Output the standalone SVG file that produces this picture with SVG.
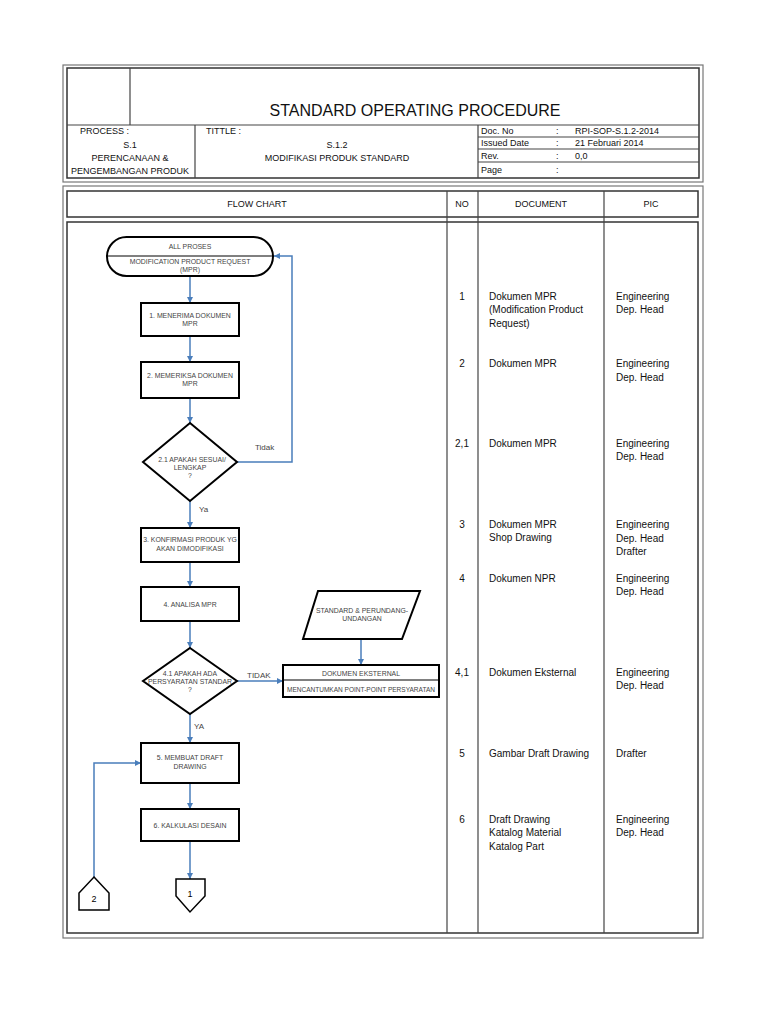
<svg xmlns="http://www.w3.org/2000/svg" width="768" height="1024" viewBox="0 0 768 1024">
<style>
.frameO{fill:none;stroke:#777;stroke-width:1.2}
.frameI{fill:none;stroke:#333;stroke-width:1.5}
.grid{fill:none;stroke:#444;stroke-width:1.2}
.hd{font-family:"Liberation Sans",Arial,sans-serif;font-size:9px;fill:#111}
.tb{font-family:"Liberation Sans",Arial,sans-serif;font-size:10px;fill:#111}
.title{font-family:"Liberation Sans",Arial,sans-serif;font-size:16px;fill:#111}
.sh{fill:#fff;stroke:#000;stroke-width:2}
.sh1{fill:none;stroke:#000;stroke-width:1}
.ft{font-family:"Liberation Sans",Arial,sans-serif;font-size:6.9px;fill:#444;text-anchor:middle}
.num{font-family:"Liberation Sans",Arial,sans-serif;font-size:9px;fill:#000;text-anchor:middle}
.lbl{font-family:"Liberation Sans",Arial,sans-serif;font-size:8px;fill:#444}
.cn{fill:none;stroke:#4a7ebb;stroke-width:1.5}
</style>
<defs>
<marker id="ah" viewBox="0 0 10 10" refX="10" refY="5" markerWidth="6" markerHeight="6" orient="auto" markerUnits="userSpaceOnUse">
<path d="M0,0 L10,5 L0,10 z" fill="#4a7ebb"/>
</marker>
</defs>
<rect width="768" height="1024" fill="#fff"/>

<g id="header">
<rect class="frameO" x="63" y="65" width="640" height="117"/>
<rect class="frameI" x="67" y="68" width="632" height="110"/>
<line class="grid" x1="130" y1="68" x2="130" y2="125"/>
<line class="grid" x1="67" y1="125" x2="699" y2="125"/>
<line class="grid" x1="195" y1="125" x2="195" y2="178"/>
<line class="grid" x1="478" y1="125" x2="478" y2="178"/>
<line class="grid" x1="478" y1="137" x2="699" y2="137"/>
<line class="grid" x1="478" y1="149" x2="699" y2="149"/>
<line class="grid" x1="478" y1="162" x2="699" y2="162"/>
<text class="title" x="415" y="116" text-anchor="middle">STANDARD OPERATING PROCEDURE</text>
<text class="hd" x="80" y="134">PROCESS :</text>
<text class="hd" x="130" y="148" text-anchor="middle">S.1</text>
<text class="hd" x="130" y="161" text-anchor="middle">PERENCANAAN &amp;</text>
<text class="hd" x="130" y="174" text-anchor="middle">PENGEMBANGAN PRODUK</text>
<text class="hd" x="206" y="134">TITTLE :</text>
<text class="hd" x="337" y="148" text-anchor="middle">S.1.2</text>
<text class="hd" x="337" y="161" text-anchor="middle">MODIFIKASI PRODUK STANDARD</text>
<text class="hd" x="481" y="134">Doc. No</text>
<text class="hd" x="556" y="134">:</text>
<text class="hd" x="575" y="134">RPI-SOP-S.1.2-2014</text>
<text class="hd" x="481" y="146">Issued Date</text>
<text class="hd" x="556" y="146">:</text>
<text class="hd" x="575" y="146">21 Februari 2014</text>
<text class="hd" x="481" y="159">Rev.</text>
<text class="hd" x="556" y="159">:</text>
<text class="hd" x="575" y="159">0,0</text>
<text class="hd" x="481" y="173">Page</text>
<text class="hd" x="556" y="173">:</text>
</g>

<g id="table">
<rect class="frameO" x="63" y="186" width="640" height="752"/>
<rect class="frameI" x="67" y="191" width="631" height="26"/>
<rect class="frameI" x="67" y="222" width="631" height="711"/>
<line class="grid" x1="447" y1="191" x2="447" y2="933"/>
<line class="grid" x1="478" y1="191" x2="478" y2="933"/>
<line class="grid" x1="604" y1="191" x2="604" y2="933" stroke="#777"/>
<text class="hd" x="257" y="207" text-anchor="middle">FLOW CHART</text>
<text class="hd" x="462" y="207" text-anchor="middle">NO</text>
<text class="hd" x="541" y="207" text-anchor="middle">DOCUMENT</text>
<text class="hd" x="651" y="207" text-anchor="middle">PIC</text>

<text class="tb" x="462" y="300" text-anchor="middle">1</text>
<text class="tb" x="489" y="300">Dokumen MPR</text>
<text class="tb" x="489" y="313">(Modification Product</text>
<text class="tb" x="489" y="327">Request)</text>
<text class="tb" x="616" y="300">Engineering</text>
<text class="tb" x="616" y="313">Dep. Head</text>

<text class="tb" x="462" y="367" text-anchor="middle">2</text>
<text class="tb" x="489" y="367">Dokumen MPR</text>
<text class="tb" x="616" y="367">Engineering</text>
<text class="tb" x="616" y="381">Dep. Head</text>

<text class="tb" x="462" y="447" text-anchor="middle">2,1</text>
<text class="tb" x="489" y="447">Dokumen MPR</text>
<text class="tb" x="616" y="447">Engineering</text>
<text class="tb" x="616" y="460">Dep. Head</text>

<text class="tb" x="462" y="528" text-anchor="middle">3</text>
<text class="tb" x="489" y="528">Dokumen MPR</text>
<text class="tb" x="489" y="541">Shop Drawing</text>
<text class="tb" x="616" y="528">Engineering</text>
<text class="tb" x="616" y="542">Dep. Head</text>
<text class="tb" x="616" y="555">Drafter</text>

<text class="tb" x="462" y="582" text-anchor="middle">4</text>
<text class="tb" x="489" y="582">Dokumen NPR</text>
<text class="tb" x="616" y="582">Engineering</text>
<text class="tb" x="616" y="595">Dep. Head</text>

<text class="tb" x="462" y="676" text-anchor="middle">4,1</text>
<text class="tb" x="489" y="676">Dokumen Eksternal</text>
<text class="tb" x="616" y="676">Engineering</text>
<text class="tb" x="616" y="689">Dep. Head</text>

<text class="tb" x="462" y="757" text-anchor="middle">5</text>
<text class="tb" x="489" y="757">Gambar Draft Drawing</text>
<text class="tb" x="616" y="757">Drafter</text>

<text class="tb" x="462" y="823" text-anchor="middle">6</text>
<text class="tb" x="489" y="823">Draft Drawing</text>
<text class="tb" x="489" y="836">Katalog Material</text>
<text class="tb" x="489" y="850">Katalog Part</text>
<text class="tb" x="616" y="823">Engineering</text>
<text class="tb" x="616" y="836">Dep. Head</text>
</g>

<g id="connectors">
<line class="cn" x1="190" y1="276" x2="190" y2="303" marker-end="url(#ah)"/>
<line class="cn" x1="190" y1="336" x2="190" y2="362" marker-end="url(#ah)"/>
<line class="cn" x1="190" y1="398" x2="190" y2="423" marker-end="url(#ah)"/>
<polyline class="cn" points="237,462 292,462 292,256 274,256" marker-end="url(#ah)"/>
<line class="cn" x1="190" y1="501" x2="190" y2="528" marker-end="url(#ah)"/>
<line class="cn" x1="190" y1="562" x2="190" y2="587" marker-end="url(#ah)"/>
<line class="cn" x1="190" y1="621" x2="190" y2="648" marker-end="url(#ah)"/>
<line class="cn" x1="237" y1="681" x2="283" y2="681" marker-end="url(#ah)"/>
<line class="cn" x1="361" y1="639" x2="361" y2="665" marker-end="url(#ah)"/>
<line class="cn" x1="190" y1="714" x2="190" y2="743" marker-end="url(#ah)"/>
<line class="cn" x1="190" y1="783" x2="190" y2="809" marker-end="url(#ah)"/>
<line class="cn" x1="190" y1="841" x2="190" y2="879" marker-end="url(#ah)"/>
<polyline class="cn" points="94,877 94,763 141,763" marker-end="url(#ah)"/>
<text class="lbl" x="255" y="450">Tidak</text>
<text class="lbl" x="199" y="512">Ya</text>
<text class="lbl" x="247" y="678">TIDAK</text>
<text class="lbl" x="194" y="729">YA</text>
</g>

<g id="start">
<rect class="sh" x="107" y="237" width="166" height="39" rx="19.5"/>
<line class="sh1" x1="107" y1="256" x2="273" y2="256"/>
<text class="ft" x="190" y="249">ALL PROSES</text>
<text class="ft" x="190" y="264">MODIFICATION PRODUCT REQUEST</text>
<text class="ft" x="190" y="272">(MPR)</text>
</g>

<g id="step1">
<rect class="sh" x="141" y="303" width="98" height="33"/>
<text class="ft" x="190" y="318">1. MENERIMA DOKUMEN</text>
<text class="ft" x="190" y="326">MPR</text>
</g>

<g id="step2">
<rect class="sh" x="141" y="362" width="98" height="36"/>
<text class="ft" x="190" y="378">2. MEMERIKSA DOKUMEN</text>
<text class="ft" x="190" y="386">MPR</text>
</g>

<g id="dec21">
<polygon class="sh" points="190,423 237,462 190,501 143,462"/>
<text class="ft" x="192" y="462">2.1 APAKAH SESUAI/</text>
<text class="ft" x="190" y="470">LENGKAP</text>
<text class="ft" x="190" y="478">?</text>
</g>

<g id="step3">
<rect class="sh" x="141" y="528" width="98" height="34"/>
<text class="ft" x="190" y="542">3. KONFIRMASI PRODUK YG</text>
<text class="ft" x="190" y="551">AKAN DIMODIFIKASI</text>
</g>

<g id="step4">
<rect class="sh" x="141" y="587" width="98" height="34"/>
<text class="ft" x="190" y="607">4. ANALISA MPR</text>
</g>

<g id="dec41">
<polygon class="sh" points="190,648 237,681 190,714 143,681"/>
<text class="ft" x="190" y="676">4.1 APAKAH ADA</text>
<text class="ft" x="190" y="684">PERSYARATAN STANDAR</text>
<text class="ft" x="190" y="692">?</text>
</g>

<g id="standard">
<polygon class="sh" points="318,591 420,591 402,639 303,639"/>
<text class="ft" x="362" y="613">STANDARD &amp; PERUNDANG-</text>
<text class="ft" x="362" y="621">UNDANGAN</text>
</g>

<g id="dokeks">
<rect class="sh" x="283" y="665" width="156" height="32"/>
<line class="sh1" x1="283" y1="680" x2="439" y2="680"/>
<text class="ft" x="361" y="676">DOKUMEN EKSTERNAL</text>
<text class="ft" x="361" y="692" textLength="148" lengthAdjust="spacingAndGlyphs">MENCANTUMKAN POINT-POINT PERSYARATAN</text>
</g>

<g id="step5">
<rect class="sh" x="141" y="743" width="98" height="40"/>
<text class="ft" x="190" y="760">5. MEMBUAT DRAFT</text>
<text class="ft" x="190" y="769">DRAWING</text>
</g>

<g id="step6">
<rect class="sh" x="141" y="809" width="98" height="32"/>
<text class="ft" x="190" y="828">6. KALKULASI DESAIN</text>
</g>

<g id="conn1">
<polygon class="sh" style="stroke-width:1.5" points="176,879 205,879 205,896 190,912 176,896"/>
<text class="num" x="190" y="897">1</text>
</g>

<g id="conn2">
<polygon class="sh" style="stroke-width:1.5" points="94,877 109,893 109,910 79,910 79,893"/>
<text class="num" x="94" y="902">2</text>
</g>
</svg>
